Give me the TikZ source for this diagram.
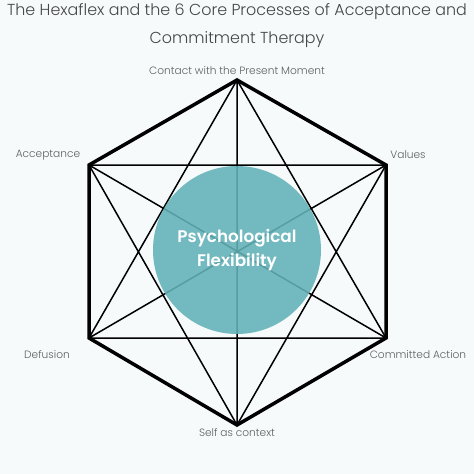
\documentclass[tikz,border=0pt]{standalone}
\usepackage{fontspec}
\setmainfont{Poppins}[UprightFont={* Light},BoldFont={* SemiBold}]
\definecolor{bgc}{RGB}{246,250,251}
\definecolor{teal1}{RGB}{98,178,184}
\definecolor{txt}{RGB}{95,95,95}
\definecolor{ttl}{RGB}{70,70,70}
\begin{document}
\begin{tikzpicture}[x=1pt,y=-1pt,
  hexedge/.style={line width=3.5pt,line join=miter},
  chord/.style={line width=1.5pt},
  lbl/.style={text=txt,font=\fontsize{10.6}{12}\selectfont,inner sep=0pt},
  vtx/.style={coordinate}]
\fill[bgc] (0,0) rectangle (474,474);
\useasboundingbox (0,0) rectangle (474,474);
\node[text=ttl,font=\fontsize{15.9}{28}\selectfont,align=center,inner sep=0pt] (title) at (237,26)
  {The Hexaflex and the 6 Core Processes of Acceptance and\\Commitment Therapy};
\coordinate (T) at (237,80);
\coordinate (UR) at (386,165);
\coordinate (LR) at (386,338);
\coordinate (B) at (237,425);
\coordinate (LL) at (89,338);
\coordinate (UL) at (89,165);
% chords
\draw[chord] (UL)--(UR) (LL)--(LR) (T)--(B) (UL)--(LR) (UR)--(LL)
  (T)--(LL) (T)--(LR) (UL)--(B) (UR)--(B);
% hexagon
\draw[hexedge] (T)--(UR)--(LR)--(B)--(LL)--(UL)--cycle;
\node[circle,fill=teal1,fill opacity=0.88,text opacity=1,minimum size=168pt,inner sep=0pt,
  text=white,font=\fontsize{16.8}{24}\selectfont\bfseries,align=center] (pf) at (237,250)
  {Psychological\\Flexibility};
\node[lbl] (cpm) at (237,71) {Contact with the Present Moment};
\node[lbl] (acc) at (48,155) {Acceptance};
\node[lbl] (val) at (408,155) {Values};
\node[lbl] (def) at (47,355) {Defusion};
\node[lbl] (ca) at (418,355) {Committed Action};
\node[lbl] (sac) at (237,433) {Self as context};
\end{tikzpicture}
\end{document}
